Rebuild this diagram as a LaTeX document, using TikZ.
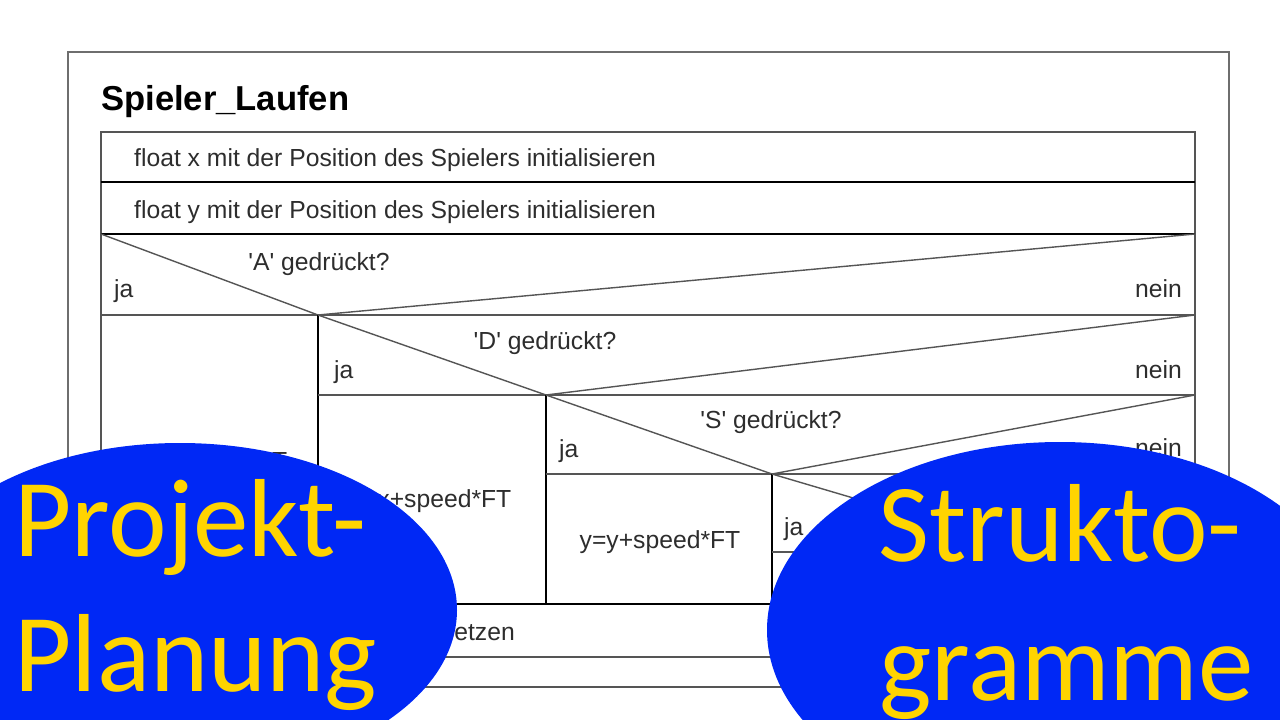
\documentclass[tikz,border=0pt]{standalone}
\usepackage{fontspec}
\setmainfont{Liberation Sans}
\newfontfamily\calib{Carlito}
\definecolor{bblue}{RGB}{0,40,245}
\definecolor{byel}{RGB}{255,212,0}
\definecolor{lgray}{RGB}{85,85,85}
\definecolor{fgray}{RGB}{110,110,110}
\definecolor{tgray}{RGB}{45,45,45}
\begin{document}
\begin{tikzpicture}[x=1pt,y=-1pt,
  thinl/.style={draw=lgray,line width=1.4pt},
  thickl/.style={draw=black,line width=2.3pt},
  framel/.style={draw=fgray,line width=1.3pt},
  txt/.style={font=\fontsize{24.7}{28}\selectfont,text=tgray,inner sep=0pt},
  ttl/.style={font=\bfseries\fontsize{34.6}{40}\selectfont,text=black,inner sep=0pt},
  big/.style={font=\calib\fontsize{111}{111}\selectfont,text=byel,inner sep=0pt}]
\useasboundingbox (0,0) rectangle (1280,720);
\fill[white] (0,0) rectangle (1280,720);
% outer frame
\draw[framel] (68,740) -- (68,52) -- (1229,52) -- (1229,740);
% structogram
\draw[thinl] (101,132) rectangle (1195,687);
\draw[thickl] (101,182) -- (1195,182);
\draw[thickl] (101,234) -- (1195,234);
\draw[thinl] (101,315) -- (1195,315);
\draw[thinl] (101,234) -- (318,315) -- (1195,234);
\draw[thickl] (318,315) -- (318,604);
\draw[thinl] (318,395) -- (1195,395);
\draw[thinl] (318,315) -- (546,395) -- (1195,315);
\draw[thickl] (546,395) -- (546,604);
\draw[thinl] (546,474) -- (1195,474);
\draw[thinl] (546,395) -- (772,474) -- (1195,395);
\draw[thickl] (772,474) -- (772,604);
\draw[thinl] (772,552) -- (1195,552);
\draw[thinl] (772,474) -- (1036,552) -- (1195,474);
\draw[thinl] (1036,552) -- (1036,604);
\draw[thickl] (101,604) -- (1195,604);
\draw[thinl] (101,657) -- (1195,657);
% texts
\node[ttl,anchor=base west] (title) at (101,110) {Spieler\_Laufen};
\node[txt,anchor=base west] (r1) at (134,166) {float x mit der Position des Spielers initialisieren};
\node[txt,anchor=base west] (r2) at (134,218) {float y mit der Position des Spielers initialisieren};
\node[txt,anchor=base] (qa) at (319,270) {\textquotesingle A\textquotesingle\ gedrückt?};
\node[txt,anchor=base west] (jaa) at (114,297) {ja};
\node[txt,anchor=base east] (neina) at (1182,297) {nein};
\node[txt,anchor=base] (qd) at (545,349) {\textquotesingle D\textquotesingle\ gedrückt?};
\node[txt,anchor=base west] (jad) at (334,378) {ja};
\node[txt,anchor=base east] (neind) at (1182,378) {nein};
\node[txt,anchor=base] (qs) at (771,428) {\textquotesingle S\textquotesingle\ gedrückt?};
\node[txt,anchor=base west] (jas) at (559,457) {ja};
\node[txt,anchor=base east] (neins) at (1182,456) {nein};
\node[txt,anchor=base west] (jaw) at (784,535) {ja};
\node[txt,anchor=base] (xl) at (210,469) {x=x-speed*FT};
\node[txt,anchor=base] (xr) at (431,507) {x=x+speed*FT};
\node[txt,anchor=base] (yd) at (660,548) {y=y+speed*FT};
\node[txt,anchor=base east] (set) at (515,640) {Position des Spielers auf x,y setzen};
% ellipses
\fill[bblue] (180,610) ellipse [x radius=277pt, y radius=167pt];
\fill[bblue] (1060,630) ellipse [x radius=293pt, y radius=188pt];
\node[big,anchor=base west] (p1) at (14,556) {Projekt-};
\node[big,anchor=base west] (p2) at (14,691) {Planung};
\node[big,anchor=base west] (s1) at (878,561) {Strukto-};
\node[big,anchor=base west] (s2) at (879,700) {gramme};
\end{tikzpicture}
\end{document}
